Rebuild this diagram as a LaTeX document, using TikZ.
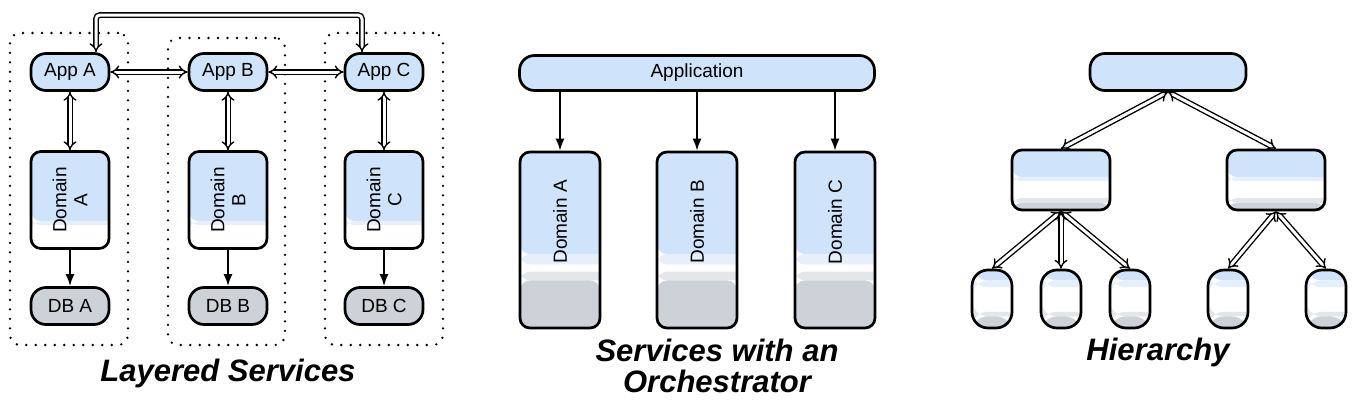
\documentclass[tikz,border=0pt]{standalone}
\usepackage{fontspec}
\setmainfont{Liberation Sans}
\usetikzlibrary{arrows.meta,calc}
\definecolor{lb}{HTML}{CFE3FB}
\definecolor{mb}{HTML}{E6F0FC}
\definecolor{mg}{HTML}{E4E6EA}
\definecolor{gr}{HTML}{CDD1D8}
\begin{document}
\begin{tikzpicture}[x=1pt,y=-1pt,
  box/.style={draw=black,line width=2.7pt,rounded corners=10pt,inner sep=0pt,font=\fontsize{19}{22}\selectfont},
  app/.style={box,fill=lb,rounded corners=15pt},
  db/.style={box,fill=gr,rounded corners=15pt},
  bands/.style n args={4}{path picture={
    \coordinate (nw) at (path picture bounding box.north west);
    \coordinate (se) at (path picture bounding box.south east);
    \fill[lb] (nw) rectangle ($(nw|-se)!1-#1!(nw) + (200,0)$);
    \fill[mb] ($(nw|-se)!1-#1!(nw)$) rectangle ($(nw|-se)!1-#2!(nw) + (200,0)$);
    \fill[white] ($(nw|-se)!1-#2!(nw)$) rectangle ($(nw|-se)!1-#3!(nw) + (200,0)$);
    \fill[mg] ($(nw|-se)!1-#3!(nw)$) rectangle ($(nw|-se)!1-#4!(nw) + (200,0)$);
    \fill[gr] ($(nw|-se)!1-#4!(nw)$) rectangle (se);
  }},
  dbl/.style={double,double distance=3pt,line width=1.4pt,{Implies[length=9pt,width=16pt]}-{Implies[length=9pt,width=16pt]}},
  sgl/.style={line width=1.8pt,-{Latex[length=12pt,width=9pt]}},
  grp/.style={draw,line width=2.6pt,dash pattern=on 0pt off 9.5pt,line cap=round,rounded corners=10pt},
  ttl/.style={font=\fontsize{31}{34}\selectfont\bfseries\itshape,align=center}]
\useasboundingbox (0,0) rectangle (1358,407);
% ---------- Layered services
\node[grp,minimum width=118pt,minimum height=312pt] (gA) at (69,189) {};
\node[grp,minimum width=117pt,minimum height=307pt] (gB) at (226.5,191.5) {};
\node[grp,minimum width=118pt,minimum height=312pt] (gC) at (384,189) {};
\foreach \n/\x in {A/70,B/228,C/384}{
  \node[app,minimum width=78pt,minimum height=37pt] (app\n) at (\x,72) {App \n};
  \node[box,bands={0.72}{0.76}{1.1}{1.2},minimum width=78pt,minimum height=97pt] (dom\n) at (\x,200) {};
  \node[rotate=90,align=center,font=\fontsize{19}{21}\selectfont] (domt\n) at (dom\n) {Domain\\\n};
  \node[db,minimum width=78pt,minimum height=37pt] (db\n) at (\x,306) {DB \n};
  \draw[dbl] (app\n) -- (dom\n);
  \draw[sgl] (dom\n) -- (db\n);
}
\draw[dbl] (appA) -- (appB);
\draw[dbl] (appB) -- (appC);
\coordinate (tA) at (96,15);
\coordinate (tC) at (362,15);
\draw[dbl,rounded corners=4pt] (appA.north -| tA) -- (tA) -- (tC) -- (appC.north -| tC);
\node[ttl] (t1) at (228,373) {Layered Services};
% ---------- Orchestrator
\node[app,minimum width=355pt,minimum height=35pt] (appl) at (697,73) {Application};
\foreach \n/\x in {A/560,B/697,C/835}{
  \node[box,bands={0.58}{0.64}{0.68}{0.73},minimum width=80pt,minimum height=176pt] (od\n) at (\x,240) {};
  \node[rotate=90,font=\fontsize{19}{22}\selectfont] (odt\n) at (\x,222) {Domain \n};
  \draw[sgl] (appl.south -| od\n) -- (od\n);
}
\node[ttl] (t2) at (717,366) {Services with an\\[-3pt]Orchestrator};
% ---------- Hierarchy
\node[app,minimum width=156pt,minimum height=37pt] (h0) at (1168,72) {};
\node[box,bands={0.45}{0.52}{0.8}{0.88},minimum width=98pt,minimum height=60pt] (h1) at (1061,180) {};
\node[box,bands={0.45}{0.52}{0.8}{0.88},minimum width=98pt,minimum height=60pt] (h2) at (1276,180) {};
\foreach \i/\x in {1/992,2/1061,3/1130}{
  \node[box,rounded corners=16pt,bands={0.18}{0.3}{0.72}{0.8},minimum width=40pt,minimum height=58pt] (l\i) at (\x,299) {};
  \draw[dbl] (h1.south) -- (l\i.north);
}
\foreach \i/\x in {4/1228,5/1326}{
  \node[box,rounded corners=16pt,bands={0.18}{0.3}{0.72}{0.8},minimum width=40pt,minimum height=58pt] (l\i) at (\x,299) {};
  \draw[dbl] (h2.south) -- (l\i.north);
}
\draw[dbl] (h0.south) -- (h1.north);
\draw[dbl] (h0.south) -- (h2.north);
\node[ttl] (t3) at (1158,352) {Hierarchy};
\end{tikzpicture}
\end{document}
